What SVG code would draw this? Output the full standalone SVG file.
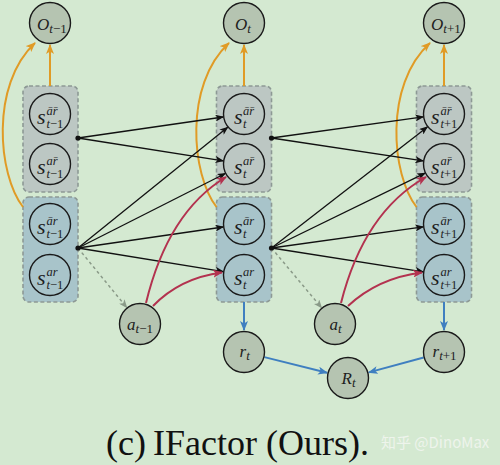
<svg xmlns="http://www.w3.org/2000/svg" width="500" height="465" viewBox="0 0 500 465">
<style>
.m{font-family:"Liberation Serif","Times New Roman",serif;font-style:italic;fill:#1e1e1e}
.up{font-style:normal}
.nd{fill:#b5c4b1;stroke:#1a1a1a;stroke-width:1.4}
.st{fill:none;stroke:#1a1a1a;stroke-width:1.4}
.gbox{fill:#bcc7c3;stroke:#8d9995;stroke-width:1.6;stroke-dasharray:4 2.5}
.bbox{fill:#a8c4ca;stroke:#8d9995;stroke-width:1.6;stroke-dasharray:4 2.5}
.k{fill:none;stroke:#111;stroke-width:1.3;marker-end:url(#ak)}
.o{fill:none;stroke:#e09b26;stroke-width:2;marker-end:url(#ao)}
.rd{fill:none;stroke:#b3324f;stroke-width:2;marker-end:url(#ar)}
.bl{fill:none;stroke:#3f7fc0;stroke-width:2;marker-end:url(#ab)}
.gd{fill:none;stroke:#8a9a88;stroke-width:1.5;stroke-dasharray:3 3;marker-end:url(#ag)}
.s{font-size:22px}
.ss{font-size:12.5px}
</style>
<defs>
<marker id="ak" viewBox="0 0 10 8" refX="9" refY="4" markerWidth="9" markerHeight="7" orient="auto" markerUnits="userSpaceOnUse"><path d="M0,0 L10,4 L0,8 L2.5,4 z" fill="#111"/></marker>
<marker id="ao" viewBox="0 0 10 8" refX="9" refY="4" markerWidth="10" markerHeight="8" orient="auto" markerUnits="userSpaceOnUse"><path d="M0,0 L10,4 L0,8 L2.5,4 z" fill="#e09b26"/></marker>
<marker id="ar" viewBox="0 0 10 8" refX="9" refY="4" markerWidth="10" markerHeight="8" orient="auto" markerUnits="userSpaceOnUse"><path d="M0,0 L10,4 L0,8 L2.5,4 z" fill="#b3324f"/></marker>
<marker id="ab" viewBox="0 0 10 8" refX="9" refY="4" markerWidth="10" markerHeight="8" orient="auto" markerUnits="userSpaceOnUse"><path d="M0,0 L10,4 L0,8 L2.5,4 z" fill="#3f7fc0"/></marker>
<marker id="ag" viewBox="0 0 10 8" refX="9" refY="4" markerWidth="9" markerHeight="7" orient="auto" markerUnits="userSpaceOnUse"><path d="M0,0 L10,4 L0,8 L2.5,4 z" fill="#8a9a88"/></marker>
</defs>
<rect width="500" height="465" fill="#d4e9d1"/>

<!-- boxes -->
<g id="box-L-grey"><rect class="gbox" x="23" y="86" width="55" height="106" rx="6"/></g>
<g id="box-L-blue"><rect class="bbox" x="23" y="197" width="55" height="105" rx="6"/></g>
<g id="box-M-grey"><rect class="gbox" x="216.5" y="86" width="55" height="106" rx="6"/></g>
<g id="box-M-blue"><rect class="bbox" x="216.5" y="197" width="55" height="105" rx="6"/></g>
<g id="box-R-grey"><rect class="gbox" x="416.5" y="86" width="55" height="106" rx="6"/></g>
<g id="box-R-blue"><rect class="bbox" x="416.5" y="197" width="55" height="105" rx="6"/></g>

<g id="connectors">
  <!-- orange -->
  <path class="o" d="M50,86 L50,45"/>
  <path class="o" d="M23,207 C-2,175 -10,85 35,43"/>
  <path class="o" d="M244,86 L244,45"/>
  <path class="o" d="M216.5,207 C191.5,175 183.5,85 229,43"/>
  <path class="o" d="M444,86 L444,45"/>
  <path class="o" d="M416.5,207 C391.5,175 383.5,85 430,43"/>
  <!-- black from L -->
  <path class="k" d="M78,138 L223.2,117"/>
  <path class="k" d="M78,138 L223.2,160.8"/>
  <path class="k" d="M78,248 L227.7,127.2"/>
  <path class="k" d="M78,248 L225.3,173.5"/>
  <path class="k" d="M78,248 L223.2,227"/>
  <path class="k" d="M78,248 L223.3,271.6"/>
  <!-- black from M -->
  <path class="k" d="M271.5,138 L423.2,116.9"/>
  <path class="k" d="M271.5,138 L423.2,160.9"/>
  <path class="k" d="M271.5,248 L427.4,126.9"/>
  <path class="k" d="M271.5,248 L425.1,173.2"/>
  <path class="k" d="M271.5,248 L423.2,226.9"/>
  <path class="k" d="M271.5,248 L423.3,271.8"/>
  <!-- dashed grey -->
  <path class="gd" d="M78,248 L126.8,307.6"/>
  <path class="gd" d="M271.5,248 L321.6,307.8"/>
  <!-- red -->
  <path class="rd" d="M146,303 Q168,212 226,177"/>
  <path class="rd" d="M153,306 Q180,278 222,272.5"/>
  <path class="rd" d="M341,303 Q364,212 426,177"/>
  <path class="rd" d="M348,306 Q378,278 422,272.5"/>
  <!-- blue -->
  <path class="bl" d="M244,302 L244,330"/>
  <path class="bl" d="M444,302 L444,330"/>
  <path class="bl" d="M264.4,357.1 L327.1,372.8"/>
  <path class="bl" d="M423.7,357.5 L368.8,372.4"/>
  <!-- dots -->
  <circle cx="78" cy="138" r="2.6" fill="#111"/>
  <circle cx="78" cy="248" r="2.6" fill="#111"/>
  <circle cx="271.5" cy="138" r="2.6" fill="#111"/>
  <circle cx="271.5" cy="248" r="2.6" fill="#111"/>
</g>

<!-- O nodes -->
<g id="O-tm1"><circle class="nd" cx="50" cy="23" r="20.5"/><text class="m" x="37" y="29.5" font-size="17">O<tspan dy="3" font-size="13">t</tspan><tspan class="up" font-size="13">−1</tspan></text></g>
<g id="O-t"><circle class="nd" cx="244" cy="23" r="20.5"/><text class="m" x="235" y="29.5" font-size="17">O<tspan dy="3" font-size="13">t</tspan></text></g>
<g id="O-tp1"><circle class="nd" cx="444" cy="23" r="20.5"/><text class="m" x="431" y="29.5" font-size="17">O<tspan dy="3" font-size="13">t</tspan><tspan class="up" font-size="13">+1</tspan></text></g>

<!-- state nodes L -->
<g id="s-abarrbar-tm1"><circle class="st" cx="50" cy="114" r="20.5"/><text class="m s" x="37" y="123.5">s</text><text class="m ss" x="46.5" y="114.5">ār̄</text><text class="m ss" x="46.5" y="127.5">t<tspan class="up">−1</tspan></text></g>
<g id="s-arbar-tm1"><circle class="st" cx="50" cy="164" r="20.5"/><text class="m s" x="37" y="173.5">s</text><text class="m ss" x="46.5" y="164.5">ar̄</text><text class="m ss" x="46.5" y="177.5">t<tspan class="up">−1</tspan></text></g>
<g id="s-abarr-tm1"><circle class="st" cx="50" cy="224" r="20.5"/><text class="m s" x="37" y="233.5">s</text><text class="m ss" x="46.5" y="224.5">ār</text><text class="m ss" x="46.5" y="237.5">t<tspan class="up">−1</tspan></text></g>
<g id="s-ar-tm1"><circle class="st" cx="50" cy="275" r="20.5"/><text class="m s" x="37" y="284.5">s</text><text class="m ss" x="46.5" y="275.5">ar</text><text class="m ss" x="46.5" y="288.5">t<tspan class="up">−1</tspan></text></g>

<!-- state nodes M -->
<g id="s-abarrbar-t"><circle class="st" cx="244" cy="114" r="20.5"/><text class="m s" x="234" y="123.5">s</text><text class="m ss" x="243" y="114.5">ār̄</text><text class="m ss" x="243" y="127.5">t</text></g>
<g id="s-arbar-t"><circle class="st" cx="244" cy="164" r="20.5"/><text class="m s" x="234" y="173.5">s</text><text class="m ss" x="243" y="164.5">ar̄</text><text class="m ss" x="243" y="177.5">t</text></g>
<g id="s-abarr-t"><circle class="st" cx="244" cy="224" r="20.5"/><text class="m s" x="234" y="233.5">s</text><text class="m ss" x="243" y="224.5">ār</text><text class="m ss" x="243" y="237.5">t</text></g>
<g id="s-ar-t"><circle class="st" cx="244" cy="275" r="20.5"/><text class="m s" x="234" y="284.5">s</text><text class="m ss" x="243" y="275.5">ar</text><text class="m ss" x="243" y="288.5">t</text></g>

<!-- state nodes R -->
<g id="s-abarrbar-tp1"><circle class="st" cx="444" cy="114" r="20.5"/><text class="m s" x="431" y="123.5">s</text><text class="m ss" x="440.5" y="114.5">ār̄</text><text class="m ss" x="440.5" y="127.5">t<tspan class="up">+1</tspan></text></g>
<g id="s-arbar-tp1"><circle class="st" cx="444" cy="164" r="20.5"/><text class="m s" x="431" y="173.5">s</text><text class="m ss" x="440.5" y="164.5">ar̄</text><text class="m ss" x="440.5" y="177.5">t<tspan class="up">+1</tspan></text></g>
<g id="s-abarr-tp1"><circle class="st" cx="444" cy="224" r="20.5"/><text class="m s" x="431" y="233.5">s</text><text class="m ss" x="440.5" y="224.5">ār</text><text class="m ss" x="440.5" y="237.5">t<tspan class="up">+1</tspan></text></g>
<g id="s-ar-tp1"><circle class="st" cx="444" cy="275" r="20.5"/><text class="m s" x="431" y="284.5">s</text><text class="m ss" x="440.5" y="275.5">ar</text><text class="m ss" x="440.5" y="288.5">t<tspan class="up">+1</tspan></text></g>

<!-- bottom nodes -->
<g id="a-tm1"><circle class="nd" cx="140" cy="324" r="20.5"/><text class="m" x="127" y="330" font-size="17">a<tspan dy="3" font-size="13">t</tspan><tspan class="up" font-size="13">−1</tspan></text></g>
<g id="a-t"><circle class="nd" cx="335" cy="324" r="20.5"/><text class="m" x="329.5" y="330" font-size="17">a<tspan dy="3" font-size="13">t</tspan></text></g>
<g id="r-t"><circle class="nd" cx="244" cy="352" r="20.5"/><text class="m" x="239.5" y="357" font-size="17">r<tspan dy="3" font-size="13">t</tspan></text></g>
<g id="r-tp1"><circle class="nd" cx="444" cy="352" r="20.5"/><text class="m" x="432.5" y="357" font-size="17">r<tspan dy="3" font-size="13">t</tspan><tspan class="up" font-size="13">+1</tspan></text></g>
<g id="R-t"><circle class="nd" cx="348" cy="378" r="20.5"/><text class="m" x="341.5" y="384" font-size="17">R<tspan dy="3" font-size="13">t</tspan></text></g>

<!-- caption -->
<text font-family="Liberation Serif, Times New Roman, serif" font-size="36" fill="#111" y="455"><tspan x="106">(c)</tspan><tspan x="153">IFactor (Ours).</tspan></text>
<text x="381" y="448" font-family="Noto Sans CJK SC, sans-serif" font-size="15" fill="#eef4ec">知乎 @DinoMax</text>
</svg>
